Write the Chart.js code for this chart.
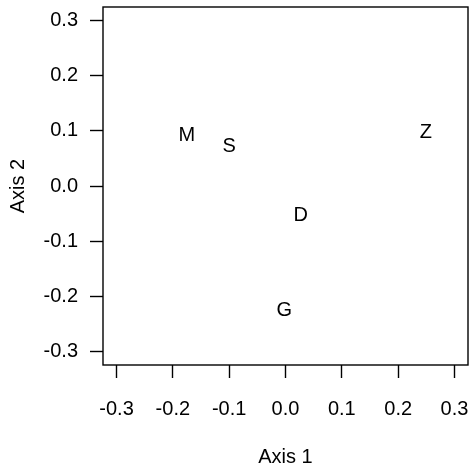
<!DOCTYPE html>
<html lang="en">
<head>
    <meta charset="UTF-8">
    <title>Axis 1 vs Axis 2</title>
    <script src="https://cdn.jsdelivr.net/npm/chart.js"></script>
    <style>
        body { margin: 0; background: #fff; }
    </style>
</head>
<body>
    <canvas id="grafico" width="474" height="476"></canvas>

    <script>
        // values
        const rotulos = ["M", "S", "Z", "D", "G"];
        const eixo1 = [-0.175, -0.100, 0.249, 0.027, -0.002];
        const eixo2 = [0.093, 0.074, 0.099, -0.052, -0.223];
        const marcas = [-0.3, -0.2, -0.1, 0.0, 0.1, 0.2, 0.3];
        const limite = 0.324;

        Chart.defaults.font.family = "'Liberation Sans', Arial, sans-serif";
        Chart.defaults.color = "#000";

        const pontos = eixo1.map((x, i) => ({ x: x, y: eixo2[i] }));

        // draws the letters at the points and the box round the plot
        const textoPontos = {
            id: 'textoPontos',
            afterDatasetsDraw(chart) {
                const ctx = chart.ctx;
                const meta = chart.getDatasetMeta(0);
                ctx.save();
                ctx.font = "20px 'Liberation Sans', Arial, sans-serif";
                ctx.fillStyle = "#000";
                ctx.textAlign = "center";
                ctx.textBaseline = "middle";
                meta.data.forEach((p, i) => {
                    ctx.fillText(rotulos[i], p.x, p.y + 1);
                });
                const a = chart.chartArea;
                ctx.strokeStyle = "#000";
                ctx.lineWidth = 1.4;
                ctx.strokeRect(a.left, a.top, a.right - a.left, a.bottom - a.top);
                ctx.restore();
            }
        };

        const fonteTicks = { size: 20 };

        // no extra room for the end tick labels, the box must fill the canvas
        const semFolga = s => {
            s.paddingLeft = 0;
            s.paddingRight = 0;
            s.paddingTop = 0;
            s.paddingBottom = 0;
        };

        const grafico = new Chart(document.getElementById('grafico'), {
            type: 'scatter',
            data: {
                datasets: [{
                    data: pontos,
                    pointRadius: 0,
                    pointHoverRadius: 0
                }]
            },
            options: {
                responsive: false,
                animation: false,
                events: [],
                layout: { padding: { top: 7, right: 6, left: 0, bottom: 0 } },
                plugins: {
                    legend: { display: false },
                    tooltip: { enabled: false }
                },
                scales: {
                    x: {
                        min: -limite,
                        max: limite,
                        afterBuildTicks: s => { s.ticks = marcas.map(v => ({ value: v })); },
                        afterFit: s => { s.height = 111; semFolga(s); },
                        border: { display: false },
                        grid: {
                            drawOnChartArea: false,
                            drawTicks: true,
                            tickLength: 13,
                            tickColor: "#000",
                            tickWidth: 1.4
                        },
                        ticks: {
                            font: fonteTicks,
                            padding: 19,
                            maxRotation: 0,
                            autoSkip: false,
                            callback: v => Number(v).toFixed(1)
                        },
                        title: {
                            display: true,
                            text: "Axis 1",
                            font: { size: 20 },
                            padding: 7
                        }
                    },
                    y: {
                        min: -limite,
                        max: limite,
                        afterBuildTicks: s => { s.ticks = marcas.map(v => ({ value: v })); },
                        afterFit: s => { s.width = 103; semFolga(s); },
                        border: { display: false },
                        grid: {
                            drawOnChartArea: false,
                            drawTicks: true,
                            tickLength: 13,
                            tickColor: "#000",
                            tickWidth: 1.4
                        },
                        ticks: {
                            font: fonteTicks,
                            padding: 12,
                            autoSkip: false,
                            callback: v => Number(v).toFixed(1)
                        },
                        title: {
                            display: true,
                            text: "Axis 2",
                            font: { size: 20 },
                            padding: 6
                        }
                    }
                }
            },
            plugins: [textoPontos]
        });
    </script>
</body>
</html>
